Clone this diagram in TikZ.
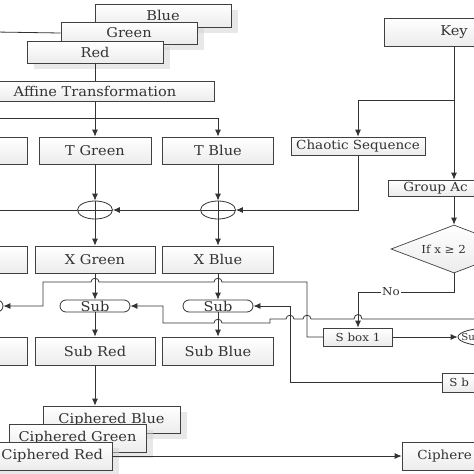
\documentclass[tikz,border=0pt]{standalone}
\usepackage{fontspec}
\setmainfont{DejaVu Serif}[FakeStretch=1.08]
\usetikzlibrary{arrows.meta,shapes.geometric,shadows}

\begin{document}
\begin{tikzpicture}[x=1pt,y=-1pt,>={Latex[length=7pt,width=6pt]},
  line width=0.8pt,color=black!80,
  every node/.style={font=\fontsize{13.5}{15}\selectfont},
  box/.style={draw=black!75,rectangle,top color=white,bottom color=gray!15,inner sep=0pt,line width=0.7pt},
  stackbox/.style={box,drop shadow={shadow xshift=7pt,shadow yshift=-6pt,fill=gray!35,opacity=0.5}},
  xor/.style={draw,ellipse,minimum width=35pt,minimum height=18pt,inner sep=0pt,
    path picture={\draw (path picture bounding box.north) -- (path picture bounding box.south)
      (path picture bounding box.west) -- (path picture bounding box.east);}},
  subpill/.style={draw,rounded corners=6pt,minimum width=70pt,minimum height=12pt,inner sep=0pt,fill=white},
  cut/.style={anchor=west,inner sep=0pt},
  small/.style={font=\fontsize{11}{13}\selectfont},
  mid/.style={font=\fontsize{12.5}{14}\selectfont}]
  \useasboundingbox (0,0) rectangle (474,474);
  \clip (0,0) rectangle (474,474);
  \node[stackbox,minimum width=136pt,minimum height=23pt] (blue) at (163,15.5) {Blue};
  \node[stackbox,minimum width=136pt,minimum height=22pt] (green) at (129,33) {Green};
  \node[stackbox,minimum width=136pt,minimum height=22pt] (red) at (95,52) {Red};
  \node[box,minimum width=238pt,minimum height=20pt] (affine) at (95,91) {Affine Transformation};
  \node[box,minimum width=112pt,minimum height=27pt] (tred) at (-29,150.5) {};
  \node[box,minimum width=112pt,minimum height=27pt] (tgreen) at (95,150.5) {T Green};
  \node[box,minimum width=111pt,minimum height=27pt] (tblue) at (218,150.5) {T Blue};
  \node[box,mid,minimum width=134pt,minimum height=18pt] (chaotic) at (358,146) {Chaotic Sequence};
  \node[box,minimum width=140pt,minimum height=28pt] (key) at (454,32) {Key};
  \node[box,minimum width=132pt,minimum height=16pt] (group) at (454,188) {};
  \node[cut,mid] (grouptxt) at (403,188) {Group Ac};
  \node[box,diamond,minimum width=126pt,minimum height=48pt] (cond) at (454,249) {};
  \node[cut,small] (condtxt) at (421,249) {If x ≥ 2};
  \node[xor] (xorr) at (-29,210) {};
  \node[xor] (xorg) at (95,210) {};
  \node[xor] (xorb) at (218,210) {};
  \node[box,minimum width=112pt,minimum height=27pt] (xred) at (-29,259.5) {};
  \node[box,minimum width=120pt,minimum height=27pt] (xgreen) at (95,259.5) {X Green};
  \node[box,minimum width=111pt,minimum height=27pt] (xblue) at (218,259.5) {X Blue};
  \node[subpill] (subr) at (-32,306) {};
  \node[subpill] (subg) at (95,306) {Sub};
  \node[subpill] (subb) at (218,306) {Sub};
  \node[box,minimum width=112pt,minimum height=28pt] (sred) at (-29,351) {};
  \node[box,minimum width=120pt,minimum height=28pt] (subredbox) at (95,351) {Sub Red};
  \node[box,minimum width=111pt,minimum height=28pt] (subbluebox) at (218,351) {Sub Blue};
  \node[box,small,minimum width=69pt,minimum height=18pt] (sbox1) at (358,337) {S box 1};
  \node[draw,ellipse,fill=white,minimum width=64pt,minimum height=18pt] (su) at (490,337) {};
  \node[cut,font=\fontsize{9.5}{11}\selectfont] (sutxt) at (461,337) {Su};
  \node[box,minimum width=70pt,minimum height=19pt] (sbox2) at (477,382.5) {};
  \node[cut,small] (sbox2txt) at (449,382.5) {S b};
  \node[stackbox,minimum width=137pt,minimum height=27pt] (cblue) at (111.5,419.5) {Ciphered Blue};
  \node[stackbox,minimum width=137pt,minimum height=28pt] (cgreen) at (77.5,438) {Ciphered Green};
  \node[stackbox,minimum width=137pt,minimum height=28pt] (cred) at (43.5,456) {};
  \node[cut] (credtxt) at (1,456) {Ciphered Red};
  \node[box,minimum width=140pt,minimum height=28pt] (cout) at (472,456) {};
  \node[cut,mid] (couttxt) at (417,456) {Ciphere};
  \coordinate (lin) at (-5,32);
  \coordinate (abr) at (95,118);
  \coordinate (kbr) at (454,100);
  \coordinate (nob) at (454,292);
  \coordinate (rin) at (490,319);
  \coordinate (s2j) at (290,306);
  \draw (lin) -- (green.west);
  \draw (red.south) -- (affine.north);
  \draw[->] (affine.south) -- (tgreen.north);
  \draw[->] (abr) -| (tblue.north);
  \draw[->] (abr) -| (tred.north);
  \draw[->] (tred.south) -- (xorr.north);
  \draw[->] (tgreen.south) -- (xorg.north);
  \draw[->] (tblue.south) -- (xorb.north);
  \draw[->] (xorr.south) -- (xred.north);
  \draw[->] (xorg.south) -- (xgreen.north);
  \draw[->] (xorb.south) -- (xblue.north);
  \draw[->] (key.south) -- (group.north);
  \draw[->] (kbr) -| (chaotic.north);
  \draw[->] (chaotic.south) |- (xorb.east);
  \draw[->] (xorb.west) -- (xorg.east);
  \draw[->] (xorg.west) -- (xorr.east);
  \draw[->] (group.south) -- (cond.north);
  \draw[->] (cond.south) -- (nob) -| (sbox1.north);
  \node[fill=white,inner sep=1pt,small] (nolbl) at (391,292) {No};
  \draw[->] (sbox1.east) -- (su.west);
  \draw[->] (su.south -| sbox2.north) -- (sbox2.north);
  \draw[->] (xgreen.south) -- (subg.north);
  \draw[->] (xblue.south) -- (subb.north);
  \draw[->] (subg.south) -- (subredbox.north);
  \draw[->] (subb.south) -- (subbluebox.north);
  \draw[->] (sbox1.west) -| (307,282) -- (222,282) .. controls (222,277) and (214,277) .. (214,282)
    -- (99,282) .. controls (99,277) and (91,277) .. (91,282) -- (43,282) |- (subr.east);
  \draw[->] (rin) -- (362,319) .. controls (362,313) and (354,313) .. (354,319)
    -- (311,319) .. controls (311,314) and (303,314) .. (303,319)
    -- (294,319) .. controls (294,314) and (286,314) .. (286,319)
    -- (270,319) -- (270,323) -- (222,323) .. controls (222,318) and (214,318) .. (214,323)
    -- (163,323) |- (subg.east);
  \draw[->] (sbox2.west) -| (s2j) -- (subb.east);
  \draw[->] (subredbox.south) -- (subredbox.south |- cblue.north);
  \draw[->] (cred.east) -- (cout.west);
\end{tikzpicture}
\end{document}
